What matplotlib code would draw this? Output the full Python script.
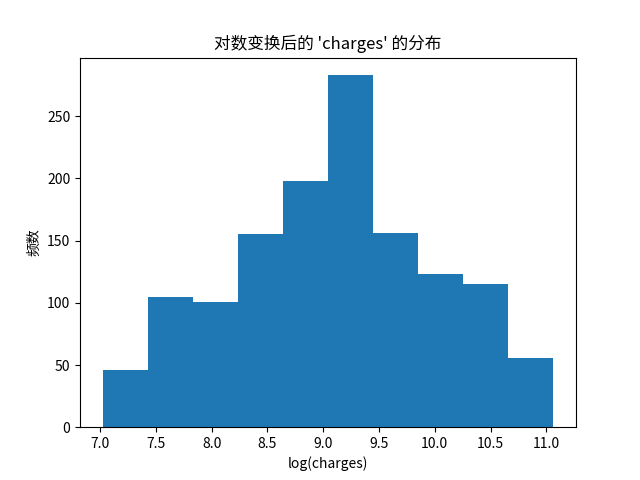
import numpy as np
import matplotlib
matplotlib.use("Agg")
import matplotlib.pyplot as plt

plt.rcParams['font.family'] = ['Noto Sans CJK SC', 'DejaVu Sans']
plt.rcParams['axes.unicode_minus'] = False

# log(charges) range and histogram counts (10 bins)
log_min = 7.0227
log_max = 11.0632
counts = [46, 105, 101, 155, 198, 283, 156, 123, 115, 56]

edges = np.linspace(log_min, log_max, len(counts) + 1)
centers = (edges[:-1] + edges[1:]) / 2

fig, ax = plt.subplots(figsize=(6.4, 4.8), dpi=100)
ax.hist(centers, bins=edges, weights=counts)
ax.set_title("对数变换后的 'charges' 的分布")
ax.set_xlabel("log(charges)")
ax.set_ylabel("频数")

fig.savefig("out.png")
